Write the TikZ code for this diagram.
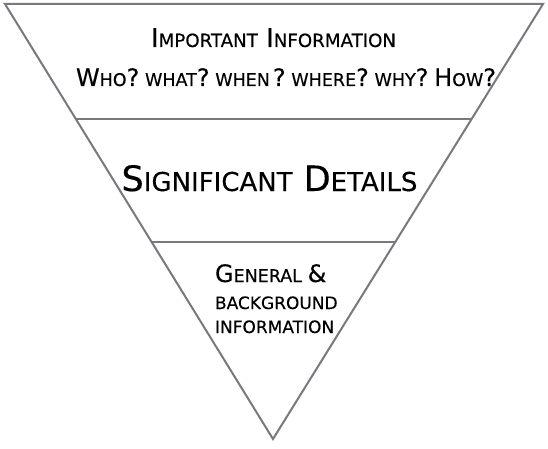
\documentclass[tikz,border=0pt]{standalone}
\usepackage{fontspec}
\setmainfont{DejaVu Sans}[FakeBold=0.3]
\usetikzlibrary{calc}
\newcommand\setsz[2]{\def\bigsz{#1}\def\smsz{#2}}
\newcommand\Bg[1]{{\fontsize{\bigsz}{\bigsz}\selectfont #1}}
\newcommand\Sm[1]{{\fontsize{\smsz}{\smsz}\selectfont #1}}
\definecolor{edge}{RGB}{120,120,126}
\tikzset{
  frame/.style={draw=edge, line width=2pt, line join=miter},
  divider/.style={draw=edge, line width=2pt},
  txt/.style={inner sep=0pt, outer sep=0pt, text=black, font=\fontsize{18}{18}\selectfont}
}
\begin{document}
\begin{tikzpicture}[x=1pt, y=-1pt]
\useasboundingbox (0,0) rectangle (548,449);
\coordinate (A) at (5,4);
\coordinate (B) at (543,4);
\coordinate (C) at (273,439);
\draw[frame] (A) -- (B) -- (C) -- cycle;
\coordinate (L1) at ($(A)!0.2644!(C)$);
\coordinate (R1) at ($(B)!0.2644!(C)$);
\coordinate (L2) at ($(A)!0.5471!(C)$);
\coordinate (R2) at ($(B)!0.5471!(C)$);
\draw[divider] (L1) -- (R1);
\draw[divider] (L2) -- (R2);
\node[txt, anchor=base] (imp) at (273.5,47) {\setsz{26}{18.2}\Bg{I}\Sm{MPORTANT}\Bg{ }\Bg{I}\Sm{NFORMATION}};
\node[txt, anchor=base] (who) at (286,86) {\setsz{24}{17.5}\Bg{W}\Sm{HO}\Bg{?} \Sm{WHAT}\Bg{?} \Sm{WHEN}\,\Bg{?} \Sm{WHERE}\Bg{?} \Sm{WHY}\Bg{?} \Bg{H}\Sm{OW}\Bg{?}};
\node[txt, anchor=base] (sig) at (269.5,191) {\setsz{35}{26}\Bg{S}\Sm{IGNIFICANT}\Bg{ }\Bg{D}\Sm{ETAILS}};
\node[txt, anchor=base west] (gen) at (215,282) {\setsz{24}{17.5}\Bg{G}\Sm{ENERAL} \Bg{\&}};
\node[txt, anchor=base west] (bac) at (215,309) {\setsz{24}{17}\Sm{BACKGROUND}};
\node[txt, anchor=base west] (inf) at (215,333) {\setsz{24}{17}\Sm{INFORMATION}};
\end{tikzpicture}
\end{document}
